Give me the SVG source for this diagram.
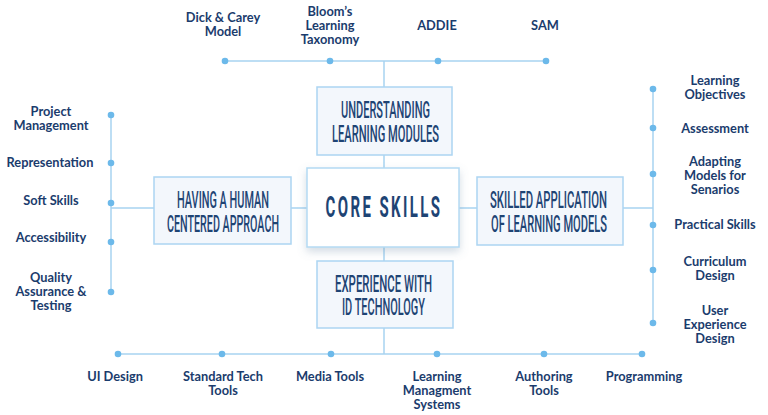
<svg xmlns="http://www.w3.org/2000/svg" width="768" height="415" viewBox="0 0 768 415">
<defs>
<filter id="shadow" x="-20%" y="-20%" width="140%" height="150%">
<feDropShadow dx="0" dy="4" stdDeviation="4" flood-color="#6f8aa6" flood-opacity="0.3"/>
</filter>
</defs>
<style>
.ln{stroke:#a8d3f1;stroke-width:1.5;fill:none}
.dot{fill:#6cb9ea}
.box{fill:#f3f7fc;stroke:#acd5f2;stroke-width:1.5}
.core{fill:#ffffff;stroke:#b4daf3;stroke-width:1.5}
.ttl{font-family:Roboto,"Liberation Sans",sans-serif;font-weight:500;font-size:23px;fill:#1e4474;text-anchor:middle}
.lbl{font-family:Lato,"Open Sans",sans-serif;font-weight:700;font-size:12.8px;fill:#1b3c6d;text-anchor:middle}
</style>
<rect width="768" height="415" fill="#ffffff"/>
<g id="connectors">
<path class="ln" d="M225 61H546M384 61V87M384 155V168M384 247V261M384 328V354M118 354H642"/>
<path class="ln" d="M111 115V292M111 208H154M291 208H307M459 208H477M623 208H653M653 89V323"/>
<g id="dots">
<circle class="dot" cx="225" cy="61" r="3.3"/>
<circle class="dot" cx="330" cy="61" r="3.3"/>
<circle class="dot" cx="438" cy="61" r="3.3"/>
<circle class="dot" cx="546" cy="61" r="3.3"/>
<circle class="dot" cx="111" cy="115" r="3.3"/>
<circle class="dot" cx="111" cy="163" r="3.3"/>
<circle class="dot" cx="111" cy="203" r="3.3"/>
<circle class="dot" cx="111" cy="242" r="3.3"/>
<circle class="dot" cx="111" cy="292" r="3.3"/>
<circle class="dot" cx="653" cy="89" r="3.3"/>
<circle class="dot" cx="653" cy="128" r="3.3"/>
<circle class="dot" cx="653" cy="174" r="3.3"/>
<circle class="dot" cx="653" cy="225" r="3.3"/>
<circle class="dot" cx="653" cy="270" r="3.3"/>
<circle class="dot" cx="653" cy="323" r="3.3"/>
<circle class="dot" cx="118" cy="354" r="3.3"/>
<circle class="dot" cx="222" cy="354" r="3.3"/>
<circle class="dot" cx="331" cy="354" r="3.3"/>
<circle class="dot" cx="437" cy="354" r="3.3"/>
<circle class="dot" cx="544" cy="354" r="3.3"/>
<circle class="dot" cx="642" cy="354" r="3.3"/>
</g>
</g>
<g id="node-core">
<rect class="core" x="307" y="168" width="152" height="79" filter="url(#shadow)"/>
<text x="384" y="217" font-family="Roboto,'Liberation Sans',sans-serif" font-weight="700" font-size="29" fill="#1e4474" text-anchor="middle" letter-spacing="4.7" textLength="117" lengthAdjust="spacingAndGlyphs">CORE SKILLS</text>
</g>
<g id="node-understanding">
<rect class="box" x="317" y="87" width="135" height="68"/>
<text class="ttl" x="385.5" y="118" textLength="89" lengthAdjust="spacingAndGlyphs">UNDERSTANDING</text>
<text class="ttl" x="385.5" y="142" textLength="107" lengthAdjust="spacingAndGlyphs">LEARNING MODULES</text>
</g>
<g id="node-human">
<rect class="box" x="154" y="177" width="137" height="67"/>
<text class="ttl" x="223" y="208" textLength="92" lengthAdjust="spacingAndGlyphs">HAVING A HUMAN</text>
<text class="ttl" x="223" y="232" textLength="112" lengthAdjust="spacingAndGlyphs">CENTERED APPROACH</text>
</g>
<g id="node-skilled">
<rect class="box" x="477" y="177" width="146" height="68"/>
<text class="ttl" x="548.5" y="208" textLength="117" lengthAdjust="spacingAndGlyphs">SKILLED APPLICATION</text>
<text class="ttl" x="549" y="232" textLength="116" lengthAdjust="spacingAndGlyphs">OF LEARNING MODELS</text>
</g>
<g id="node-experience">
<rect class="box" x="317" y="261" width="136" height="67"/>
<text class="ttl" x="383.5" y="292" font-size="21" textLength="97" lengthAdjust="spacingAndGlyphs">EXPERIENCE WITH</text>
<text class="ttl" x="383.5" y="315" font-size="21" textLength="83" lengthAdjust="spacingAndGlyphs">ID TECHNOLOGY</text>
</g>
<g id="top-labels">
<text class="lbl" x="223" y="22">Dick &amp; Carey<tspan x="223" dy="14">Model</tspan></text>
<text class="lbl" x="330" y="16">Bloom’s<tspan x="330" dy="14">Learning</tspan><tspan x="330" dy="14">Taxonomy</tspan></text>
<text class="lbl" x="437" y="30">ADDIE</text>
<text class="lbl" x="545" y="30">SAM</text>
</g>
<g id="left-labels">
<text class="lbl" x="51" y="116">Project<tspan x="51" dy="14">Management</tspan></text>
<text class="lbl" x="50" y="167">Representation</text>
<text class="lbl" x="51" y="205">Soft Skills</text>
<text class="lbl" x="51" y="242">Accessibility</text>
<text class="lbl" x="51" y="282">Quality<tspan x="51" dy="14">Assurance &amp;</tspan><tspan x="51" dy="14">Testing</tspan></text>
</g>
<g id="right-labels">
<text class="lbl" x="715" y="85">Learning<tspan x="715" dy="14">Objectives</tspan></text>
<text class="lbl" x="715" y="133">Assessment</text>
<text class="lbl" x="715" y="166">Adapting<tspan x="715" dy="14">Models for</tspan><tspan x="715" dy="14">Senarios</tspan></text>
<text class="lbl" x="715" y="229">Practical Skills</text>
<text class="lbl" x="715" y="266">Curriculum<tspan x="715" dy="14">Design</tspan></text>
<text class="lbl" x="715" y="315">User<tspan x="715" dy="14">Experience</tspan><tspan x="715" dy="14">Design</tspan></text>
</g>
<g id="bottom-labels">
<text class="lbl" x="115" y="381">UI Design</text>
<text class="lbl" x="223" y="381">Standard Tech<tspan x="223" dy="14">Tools</tspan></text>
<text class="lbl" x="330" y="381">Media Tools</text>
<text class="lbl" x="437" y="381">Learning<tspan x="437" dy="14">Managment</tspan><tspan x="437" dy="14">Systems</tspan></text>
<text class="lbl" x="544" y="381">Authoring<tspan x="544" dy="14">Tools</tspan></text>
<text class="lbl" x="644" y="381">Programming</text>
</g>
</svg>
